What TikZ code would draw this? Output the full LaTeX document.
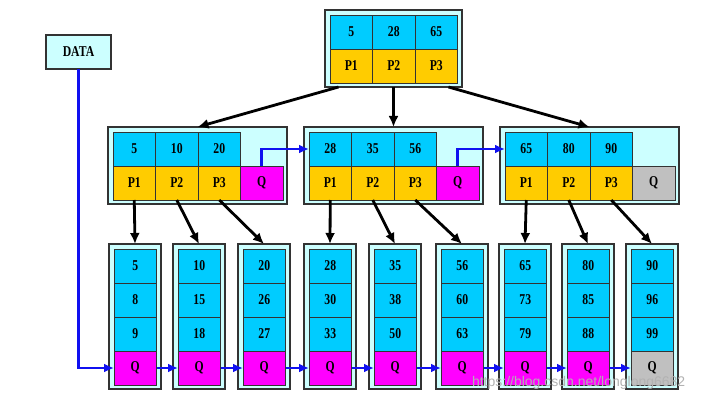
\documentclass[tikz,border=0pt]{standalone}
\usepackage{fontspec}
\newfontfamily\cellfont{Liberation Serif}[FakeStretch=0.78]
\newfontfamily\marksans{Liberation Sans}
\usetikzlibrary{positioning,arrows.meta}
\definecolor{keyblue}{HTML}{00CCFF}
\definecolor{ptryellow}{HTML}{FFCC00}
\definecolor{linkpink}{HTML}{FF00FF}
\definecolor{nullgray}{HTML}{C0C0C0}
\definecolor{framecyan}{HTML}{CCFFFF}
\definecolor{edgegray}{HTML}{333333}
\definecolor{chainblue}{HTML}{1010F0}

\begin{document}
\begin{tikzpicture}[
  x=1pt,y=1pt,
  every node/.style={inner sep=0pt,outer sep=0pt,font=\cellfont\bfseries\fontsize{15}{17}\selectfont},
  node distance=0pt,
  frame/.style={draw=edgegray,fill=framecyan,line width=1.3pt,anchor=north west},
  cell/.style={draw=edgegray,line width=0.9pt,minimum width=42.5pt,minimum height=34pt},
  key/.style={cell,fill=keyblue},
  ptr/.style={cell,fill=ptryellow},
  link/.style={cell,fill=linkpink},
  nolink/.style={cell,fill=nullgray},
  down/.style={->,line width=2.8pt},
  chain/.style={->,draw=chainblue,line width=2.6pt},
  hop/.style={chain,to path={|- (\tikztotarget)}},
  ]
  \useasboundingbox (0,0) rectangle (725,-401);
  % data entry
  \node[draw=edgegray,fill=framecyan,line width=1.3pt,minimum width=65pt,minimum height=34pt](data) at (78.5,-52){DATA};
  % root
  \node[frame,minimum width=137pt,minimum height=77pt](root) at (325,-10){};
  \node[key,anchor=north west](rk1) at (330,-15){5};
  \node[key,right=of rk1](rk2){28};
  \node[key,right=of rk2](rk3){65};
  \node[ptr,below=of rk1](rp1){P1};
  \node[ptr,below=of rk2](rp2){P2};
  \node[ptr,below=of rk3](rp3){P3};
  % inner level
  \node[frame,minimum width=179pt,minimum height=77pt](n1) at (108,-127){};
  \node[key,anchor=north west](n1k1) at (113,-132){5};
  \node[key,right=of n1k1](n1k2){10};
  \node[key,right=of n1k2](n1k3){20};
  \node[ptr,below=of n1k1](n1p1){P1};
  \node[ptr,below=of n1k2](n1p2){P2};
  \node[ptr,below=of n1k3](n1p3){P3};
  \node[link,right=of n1p3](n1q){Q};
  \node[frame,minimum width=179pt,minimum height=77pt](n2) at (304,-127){};
  \node[key,anchor=north west](n2k1) at (309,-132){28};
  \node[key,right=of n2k1](n2k2){35};
  \node[key,right=of n2k2](n2k3){56};
  \node[ptr,below=of n2k1](n2p1){P1};
  \node[ptr,below=of n2k2](n2p2){P2};
  \node[ptr,below=of n2k3](n2p3){P3};
  \node[link,right=of n2p3](n2q){Q};
  \node[frame,minimum width=179pt,minimum height=77pt](n3) at (500,-127){};
  \node[key,anchor=north west](n3k1) at (505,-132){65};
  \node[key,right=of n3k1](n3k2){80};
  \node[key,right=of n3k2](n3k3){90};
  \node[ptr,below=of n3k1](n3p1){P1};
  \node[ptr,below=of n3k2](n3p2){P2};
  \node[ptr,below=of n3k3](n3p3){P3};
  \node[nolink,right=of n3p3](n3q){Q};
  % leaves
  \node[frame,minimum width=52pt,minimum height=145pt](l1) at (109,-244){};
  \node[key,anchor=north west](l1a) at (114,-249){5}; \node[key,below=of l1a](l1b){8};
  \node[key,below=of l1b](l1c){9}; \node[link,below=of l1c](l1q){Q};
  \node[frame,minimum width=52pt,minimum height=145pt](l2) at (173,-244){};
  \node[key,anchor=north west](l2a) at (178,-249){10}; \node[key,below=of l2a](l2b){15};
  \node[key,below=of l2b](l2c){18}; \node[link,below=of l2c](l2q){Q};
  \node[frame,minimum width=52pt,minimum height=145pt](l3) at (238,-244){};
  \node[key,anchor=north west](l3a) at (243,-249){20}; \node[key,below=of l3a](l3b){26};
  \node[key,below=of l3b](l3c){27}; \node[link,below=of l3c](l3q){Q};
  \node[frame,minimum width=52pt,minimum height=145pt](l4) at (304,-244){};
  \node[key,anchor=north west](l4a) at (309,-249){28}; \node[key,below=of l4a](l4b){30};
  \node[key,below=of l4b](l4c){33}; \node[link,below=of l4c](l4q){Q};
  \node[frame,minimum width=52pt,minimum height=145pt](l5) at (369,-244){};
  \node[key,anchor=north west](l5a) at (374,-249){35}; \node[key,below=of l5a](l5b){38};
  \node[key,below=of l5b](l5c){50}; \node[link,below=of l5c](l5q){Q};
  \node[frame,minimum width=52pt,minimum height=145pt](l6) at (436,-244){};
  \node[key,anchor=north west](l6a) at (441,-249){56}; \node[key,below=of l6a](l6b){60};
  \node[key,below=of l6b](l6c){63}; \node[link,below=of l6c](l6q){Q};
  \node[frame,minimum width=52pt,minimum height=145pt](l7) at (499,-244){};
  \node[key,anchor=north west](l7a) at (504,-249){65}; \node[key,below=of l7a](l7b){73};
  \node[key,below=of l7b](l7c){79}; \node[link,below=of l7c](l7q){Q};
  \node[frame,minimum width=52pt,minimum height=145pt](l8) at (562,-244){};
  \node[key,anchor=north west](l8a) at (567,-249){80}; \node[key,below=of l8a](l8b){85};
  \node[key,below=of l8b](l8c){88}; \node[link,below=of l8c](l8q){Q};
  \node[frame,minimum width=52pt,minimum height=145pt](l9) at (626,-244){};
  \node[key,anchor=north west](l9a) at (631,-249){90}; \node[key,below=of l9a](l9b){96};
  \node[key,below=of l9b](l9c){99}; \node[nolink,below=of l9c](l9q){Q};
  \path[draw,>={Latex[length=11pt,width=10pt]}]
  (root.-145) edge[down] (n1.north)
  (root.south) edge[down] (n2.north)
  (root.-35) edge[down] (n3.north)
  (n1p1.south) edge[down] (l1.north)
  (n1p2.south) edge[down] (l2.north)
  (n1p3.south) edge[down] (l3.north)
  (n2p1.south) edge[down] (l4.north)
  (n2p2.south) edge[down] (l5.north)
  (n2p3.south) edge[down] (l6.north)
  (n3p1.south) edge[down] (l7.north)
  (n3p2.south) edge[down] (l8.north)
  (n3p3.south) edge[down] (l9.north);
  \path[draw,>={Latex[length=10pt,width=9pt]}]
  (data.south) edge[hop] (l1q.west)
  (n1q.north) edge[hop] (n2k1.west)
  (n2q.north) edge[hop] (n3k1.west)
  (l1q.east) edge[chain] (l2q.west)
  (l2q.east) edge[chain] (l3q.west)
  (l3q.east) edge[chain] (l4q.west)
  (l4q.east) edge[chain] (l5q.west)
  (l5q.east) edge[chain] (l6q.west)
  (l6q.east) edge[chain] (l7q.west)
  (l7q.east) edge[chain] (l8q.west)
  (l8q.east) edge[chain] (l9q.west);
  \node[font=\marksans\fontsize{14}{16}\selectfont,text=gray!60,anchor=west](mark) at (472,-383){https://blog.csdn.net/longlong6682};
\end{tikzpicture}
\end{document}
